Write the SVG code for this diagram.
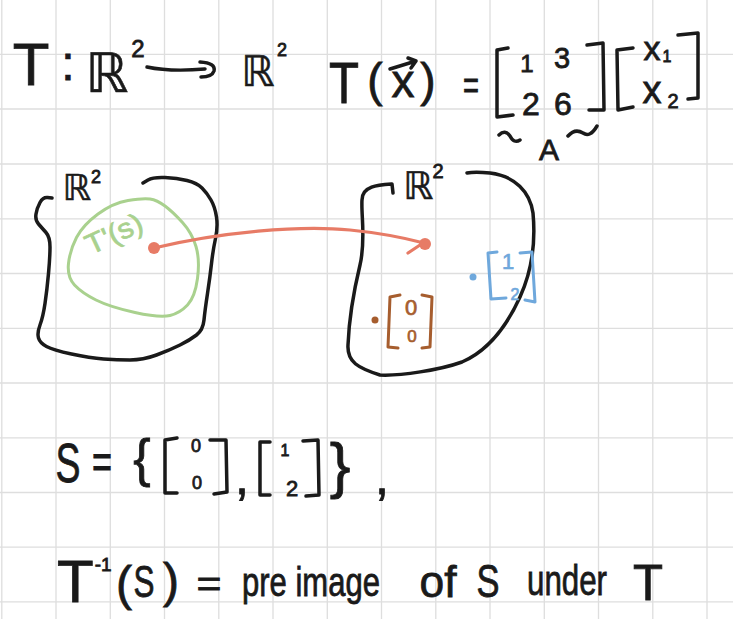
<svg xmlns="http://www.w3.org/2000/svg" width="733" height="619" viewBox="0 0 733 619">
<style>
.g{stroke:#dedede;stroke-width:1.3;fill:none}
.t{font-family:"Liberation Sans",Arial,sans-serif;fill:#1a1a1a;stroke:#1a1a1a;stroke-width:0.8}
.r{font-family:"DejaVu Sans",sans-serif;fill:#1a1a1a;stroke:#1a1a1a;stroke-width:0.6}
.k{stroke:#1a1a1a;stroke-width:3.5;fill:none;stroke-linecap:round;stroke-linejoin:round}
.gr{stroke:#a9d18e;stroke-width:3;fill:none;stroke-linecap:round;stroke-linejoin:round}
.rd{stroke:#e77b66;stroke-width:3.2;fill:none;stroke-linecap:round}
.br{stroke:#a65d2e;stroke-width:3;fill:none;stroke-linecap:round;stroke-linejoin:round}
.bl{stroke:#6fa8dc;stroke-width:3;fill:none;stroke-linecap:round;stroke-linejoin:round}
.c{font-family:"Liberation Sans",Arial,sans-serif;stroke-width:0.7}
</style>
<rect width="733" height="619" fill="#ffffff"/>
<g id="grid" class="g">
<path d="M1.8,0V619M56,0V619M110.3,0V619M164.5,0V619M218.8,0V619M273,0V619M327.3,0V619M381.5,0V619M435.8,0V619M490,0V619M544.3,0V619M598.5,0V619M652.8,0V619M707,0V619"/>
<path d="M0,54.3H733M0,109H733M0,164H733M0,218.8H733M0,273.5H733M0,328.3H733M0,383H733M0,437.8H733M0,492.5H733M0,547.2H733M0,601.8H733"/>
</g>
<g id="header">
<text class="t" x="31" y="85" font-size="60" text-anchor="middle">T</text>
<text class="t" x="68" y="80" font-size="48" text-anchor="middle">:</text>
<text class="r" x="107" y="92" font-size="54" text-anchor="middle">ℝ</text>
<text class="t" x="138" y="57" font-size="24" text-anchor="middle">2</text>
<path class="k" d="M147,67 Q170,72 205,69 M200,62 Q216,63 214,71 Q212,77 201,77"/>
<text class="r" x="258" y="86" font-size="42" text-anchor="middle">ℝ</text>
<text class="t" x="282" y="56" font-size="18" text-anchor="middle">2</text>
<text class="t" x="344" y="103" font-size="58" text-anchor="middle" textLength="30" lengthAdjust="spacingAndGlyphs">T</text>
<text class="t" x="375" y="96" font-size="46" text-anchor="middle">(</text>
<text class="t" x="403" y="97" font-size="46" text-anchor="middle">x</text>
<path class="k" d="M390,69 L416,61 M408,58 L416,61 L411,68"/>
<text class="t" x="428" y="96" font-size="46" text-anchor="middle">)</text>
<text class="t" x="471" y="99" font-size="40" text-anchor="middle" textLength="16" lengthAdjust="spacingAndGlyphs">=</text>
<path class="k" d="M508,48 L497,50 L497,117 L513,115"/>
<text class="t" x="527" y="72" font-size="24" text-anchor="middle">1</text>
<text class="t" x="562" y="68" font-size="29" text-anchor="middle">3</text>
<text class="t" x="531" y="115" font-size="32" text-anchor="middle">2</text>
<text class="t" x="563" y="115" font-size="32" text-anchor="middle">6</text>
<path class="k" d="M587,45 L603,43 L604,110 L589,110"/>
<path class="k" d="M633,48 L617,50 L618,110 L633,107"/>
<text class="t" x="652" y="60" font-size="34" text-anchor="middle">x</text>
<text class="t" x="667" y="62" font-size="16" text-anchor="middle">1</text>
<text class="t" x="652" y="103" font-size="38" text-anchor="middle">x</text>
<text class="t" x="673" y="108" font-size="20" text-anchor="middle">2</text>
<path class="k" d="M678,35 L698,33 L698,98 L688,99"/>
<path class="k" d="M499,135 Q505,129 510,136 Q514,144 520,140 M568,136 Q575,128 583,133 Q590,138 597,126"/>
<text class="t" x="549" y="160" font-size="30" text-anchor="middle">A</text>
</g>
<g id="domain">
<path class="k" d="M52,198 L47.5,197.5 Q43,197 40,202.5 Q37,208 36,214 Q35,220 38.5,224 Q42,228 46,232.5 Q50,237 50,247 Q50,257 48.5,273.5 Q47,290 45,303.5 Q43,317 40,325 Q37,333 38.5,338 Q40,343 46.5,346.5 Q53,350 71.5,354 Q90,358 103.5,359 Q117,360 130,360 Q143,360 156.5,355 Q170,350 180,345 Q190,340 196.5,335 Q203,330 204,320 Q205,310 207.5,293.5 Q210,277 211.5,263.5 Q213,250 215.5,238.5 Q218,227 216.5,217 Q215,207 211,200 Q207,193 202,188 Q197,183 187,180.5 Q177,178 165,177.5 Q153,177 148,180 L143,183"/>
<text class="r" x="77" y="200" font-size="36" text-anchor="middle">ℝ</text>
<text class="t" x="96" y="183" font-size="18" text-anchor="middle">2</text>
</g>
<g id="preimage-region">
<path class="gr" d="M150,199 Q143,198 128,200.5 Q113,203 98,214 Q83,225 76.5,237.5 Q70,250 68.5,263.5 Q67,277 74.5,285 Q82,293 96,300 Q110,307 135,312.5 Q160,318 170,315.5 Q180,313 187.5,305 Q195,297 197.5,278.5 Q200,260 196,246.5 Q192,233 182.5,222.5 Q173,212 165,206 Q157,200 150,199 Z"/>
<text class="c" x="115" y="243" font-size="28" text-anchor="middle" fill="#a9d18e" stroke="#a9d18e" transform="rotate(-25 115 236)" textLength="60" lengthAdjust="spacingAndGlyphs">T'(s)</text>
</g>
<g id="codomain">
<path class="k" d="M393,193 L392,184 C378,185 362,186 362,200 C361,215 366,240 360,265 C354,290 349,320 348,345 C347,362 358,368 380,375 C400,376 440,370 462,362 C485,352 505,330 520,297 C530,275 536,245 533,213 C530,192 515,176 490,173 C480,172 472,172 467,173"/>
<text class="r" x="418" y="199" font-size="38" text-anchor="middle">ℝ</text>
<text class="t" x="438" y="178" font-size="20" text-anchor="middle">2</text>
</g>
<g id="point-00">
<circle cx="375" cy="320" r="3.5" fill="#a65d2e"/>
<path class="br" d="M400,295 L390,297 L388,347 L398,348 M422,295 L432,297 L430,347 L422,348"/>
<text class="c" x="411" y="315" font-size="22" text-anchor="middle" fill="#a65d2e" stroke="#a65d2e">0</text>
<text class="c" x="412" y="342" font-size="17" text-anchor="middle" fill="#a65d2e" stroke="#a65d2e">0</text>
</g>
<g id="point-12">
<circle cx="473" cy="277" r="3.5" fill="#6fa8dc"/>
<path class="bl" d="M497,252 L488,253 L491,299 L506,298 M520,253 L532,252 L535,302 L525,300"/>
<text class="c" x="508" y="269" font-size="22" text-anchor="middle" fill="#6fa8dc" stroke="#6fa8dc">1</text>
<text class="c" x="515" y="300" font-size="16" text-anchor="middle" fill="#6fa8dc" stroke="#6fa8dc">2</text>
</g>
<g id="connectors">
<circle cx="154" cy="248" r="6" fill="#e77b66"/>
<path class="rd" d="M154,248 C220,232 300,225 350,230 C380,233 405,238 424,243 M408,253 L423,243"/>
<circle cx="425" cy="244" r="6" fill="#e77b66"/>
</g>
<g id="set-S">
<text class="t" x="68" y="482" font-size="56" text-anchor="middle" textLength="25" lengthAdjust="spacingAndGlyphs">S</text>
<text class="t" x="102" y="478" font-size="48" text-anchor="middle" textLength="20" lengthAdjust="spacingAndGlyphs">=</text>
<text class="t" x="142" y="476" font-size="52" text-anchor="middle">{</text>
<path class="k" d="M177,438 L165,440 L165,493 L177,493"/>
<text class="t" x="196" y="452" font-size="18" text-anchor="middle">0</text>
<text class="t" x="197" y="489" font-size="18" text-anchor="middle">0</text>
<path class="k" d="M210,440 L226,440 L227,492 L214,494"/>
<text class="t" x="242" y="494" font-size="50" text-anchor="middle">,</text>
<path class="k" d="M270,442 L260,442 L260,495 L270,495"/>
<text class="t" x="285" y="456" font-size="16" text-anchor="middle">1</text>
<text class="t" x="292" y="496" font-size="22" text-anchor="middle">2</text>
<path class="k" d="M303,441 L318,440 L319,495 L306,496"/>
<text class="t" x="340" y="486" font-size="62" text-anchor="middle">}</text>
<text class="t" x="382" y="494" font-size="50" text-anchor="middle">,</text>
</g>
<g id="definition">
<text class="t" x="57" y="602" font-size="60">T<tspan font-size="19" dx="1" dy="-31">-1</tspan></text>
<text class="t" x="124" y="600" font-size="48" text-anchor="middle">(</text>
<text class="t" x="144" y="597" font-size="44" text-anchor="middle" textLength="21" lengthAdjust="spacingAndGlyphs">S</text>
<text class="t" x="171" y="597" font-size="48" text-anchor="middle">)</text>
<text class="t" x="209" y="596" font-size="36" text-anchor="middle" textLength="25" lengthAdjust="spacingAndGlyphs">=</text>
<text class="t" x="242" y="596" font-size="40" textLength="138" lengthAdjust="spacingAndGlyphs">pre image</text>
<text class="t" x="438" y="597" font-size="44" text-anchor="middle" textLength="37" lengthAdjust="spacingAndGlyphs">of</text>
<text class="t" x="488" y="597" font-size="46" text-anchor="middle" textLength="23" lengthAdjust="spacingAndGlyphs">S</text>
<text class="t" x="527" y="595" font-size="42" textLength="80" lengthAdjust="spacingAndGlyphs">under</text>
<text class="t" x="648" y="600" font-size="50" text-anchor="middle" textLength="30" lengthAdjust="spacingAndGlyphs">T</text>
</g>
</svg>
